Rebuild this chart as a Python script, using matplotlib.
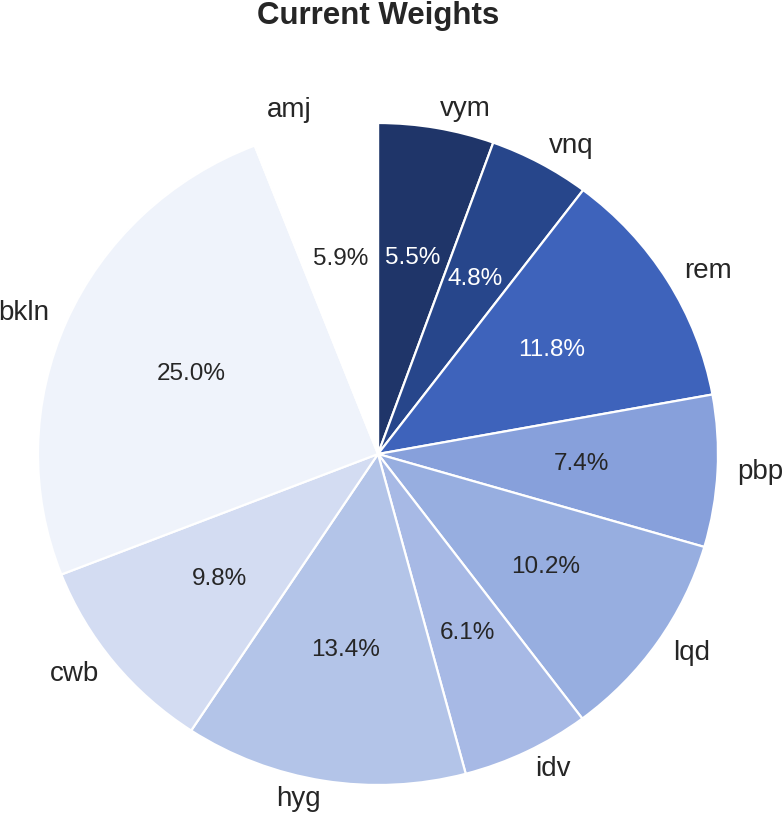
import matplotlib.pyplot as plt

plt.rcParams['font.family'] = ['Liberation Sans', 'DejaVu Sans']

# portfolio weights, clockwise from 12 o'clock
tickers = ["vym", "vnq", "rem", "pbp", "lqd", "idv", "hyg", "cwb", "bkln", "amj"]
weights = [5.5, 4.8, 11.8, 7.4, 10.2, 6.1, 13.4, 9.8, 25.0, 5.9]
colors = ["#1f3569", "#27468b", "#3e63bb", "#87a0db", "#97aee0",
          "#a7b9e5", "#b3c4e8", "#d3dcf2", "#eff3fb", "#ffffff"]
white_text = ["vym", "vnq", "rem"]

fig = plt.figure(figsize=(7.83, 8.14), dpi=100)
ax = fig.add_axes([0, 0, 1, 1])

wedges, texts, autotexts = ax.pie(
    weights, labels=tickers, colors=colors, autopct="%1.1f%%",
    startangle=90, counterclock=False, labeldistance=1.057,
    wedgeprops={"edgecolor": "white", "linewidth": 1.6},
    textprops={"fontsize": 20, "color": "#262626"})

for name, t in zip(tickers, autotexts):
    t.set_fontsize(17.5)
    if name in white_text:
        t.set_color("white")

# map data units onto pixels (pie ~340 px wide radius, ~331 px tall, centre 378,454)
cx, cy = 378.0, 454.0
rx, ry = 340.0, 331.0
ax.set_aspect("auto")
ax.set_xlim(-cx / rx, (783 - cx) / rx)
ax.set_ylim(-(814 - cy) / ry, cy / ry)
ax.axis("off")

fig.text(cx / 783, 1 - 16 / 814, "Current Weights",
         ha="center", va="center", fontsize=22.5, fontweight="bold", color="#262626")

fig.savefig("out.png", dpi=100, facecolor="white")
